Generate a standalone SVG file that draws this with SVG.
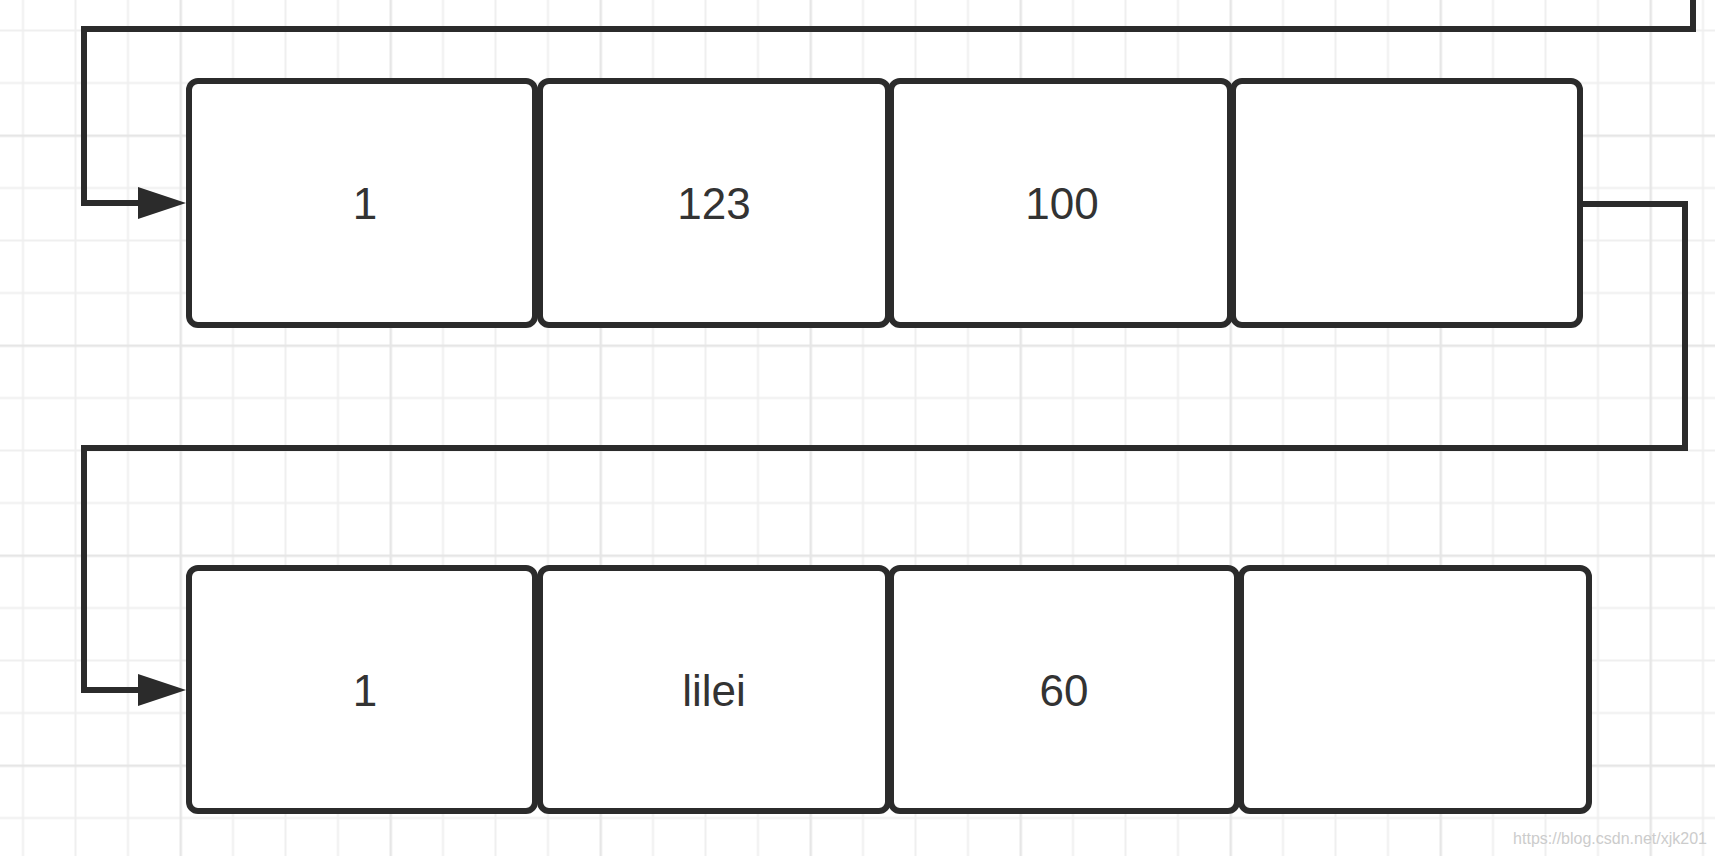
<svg xmlns="http://www.w3.org/2000/svg" width="1715" height="856" viewBox="0 0 1715 856">
  <style>
    .cell { fill: #ffffff; stroke: #2b2b2b; stroke-width: 6; }
    .label { font-family: "Liberation Sans", Arial, sans-serif; font-size: 44px; fill: #333333; text-anchor: middle; }
    .conn { fill: none; stroke: #2b2b2b; stroke-width: 6; stroke-linejoin: miter; }
    .wm { font-family: "Liberation Sans", Arial, sans-serif; font-size: 16px; fill: #cccccc; text-anchor: end; }
  </style>
  <defs>
    <pattern id="grid" patternUnits="userSpaceOnUse" x="179.5" y="134.5" width="210" height="210">
      <rect x="52.5" y="0" width="2" height="210" fill="#efefef"/>
      <rect x="105" y="0" width="2" height="210" fill="#efefef"/>
      <rect x="157.5" y="0" width="2" height="210" fill="#efefef"/>
      <rect x="0" y="52.5" width="210" height="2" fill="#efefef"/>
      <rect x="0" y="105" width="210" height="2" fill="#efefef"/>
      <rect x="0" y="157.5" width="210" height="2" fill="#efefef"/>
      <rect x="0" y="0" width="2.5" height="210" fill="#e6e6e6"/>
      <rect x="0" y="0" width="210" height="2.5" fill="#e6e6e6"/>
    </pattern>
    <marker id="arrow" markerUnits="userSpaceOnUse" markerWidth="48" markerHeight="32" refX="12" refY="16" orient="auto">
      <path d="M0,0 L48,16 L0,32 Z" fill="#2b2b2b"/>
    </marker>
  </defs>

  <rect x="0" y="0" width="1715" height="856" fill="#ffffff"/>
  <rect x="0" y="0" width="1715" height="856" fill="url(#grid)"/>

  <g id="connectors">
    <path class="conn" d="M1693,0 L1693,29 L84,29 L84,203 L150,203" marker-end="url(#arrow)"/>
    <path class="conn" d="M1583,204 L1685,204 L1685,448 L84,448 L84,690 L150,690" marker-end="url(#arrow)"/>
  </g>

  <g id="row1-cell1"><rect class="cell" x="189" y="81" width="346" height="244" rx="9"/><text class="label" x="365" y="219">1</text></g>
  <g id="row1-cell2"><rect class="cell" x="540" y="81" width="348" height="244" rx="9"/><text class="label" x="714" y="219">123</text></g>
  <g id="row1-cell3"><rect class="cell" x="891" y="81" width="339" height="244" rx="9"/><text class="label" x="1062" y="219">100</text></g>
  <g id="row1-cell4"><rect class="cell" x="1233" y="81" width="347" height="244" rx="9"/></g>

  <g id="row2-cell1"><rect class="cell" x="189" y="568" width="346" height="243" rx="9"/><text class="label" x="365" y="706">1</text></g>
  <g id="row2-cell2"><rect class="cell" x="540" y="568" width="348" height="243" rx="9"/><text class="label" x="714" y="706">lilei</text></g>
  <g id="row2-cell3"><rect class="cell" x="891" y="568" width="346" height="243" rx="9"/><text class="label" x="1064" y="706">60</text></g>
  <g id="row2-cell4"><rect class="cell" x="1241" y="568" width="348" height="243" rx="9"/></g>

  <text class="wm" x="1707" y="844">https://blog.csdn.net/xjk201</text>
</svg>
